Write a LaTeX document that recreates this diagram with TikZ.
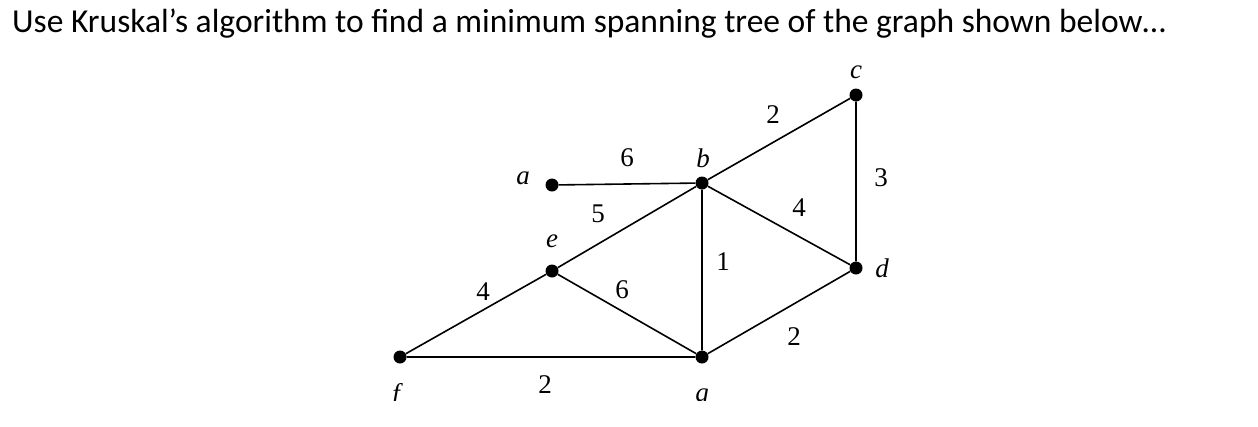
\documentclass[tikz,border=0pt]{standalone}
\usepackage{fontspec}
\setmainfont{Liberation Serif}
\newfontfamily\titlefont{Carlito}
\begin{document}
\begin{tikzpicture}[x=1pt,y=-1pt,
  vtx/.style={circle,fill=black,inner sep=0pt,minimum size=13pt},
  edge/.style={line width=1.6pt},
  wlab/.style={font=\fontsize{27}{27}\selectfont},
  vlab/.style={font=\fontsize{27}{27}\selectfont\itshape}]
\useasboundingbox (0,0) rectangle (1258,426);
\node[anchor=west,inner sep=0pt,font=\titlefont\fontsize{33.5}{33.5}\selectfont] (title) at (12,24) {Use Kruskal’s algorithm to find a minimum spanning tree of the graph shown below…};
\node[vtx] (a) at (552,185) {};
\node[vtx] (b) at (702,183) {};
\node[vtx] (c) at (856,95) {};
\node[vtx] (d) at (856,268) {};
\node[vtx] (e) at (552,271) {};
\node[vtx] (f) at (400,357) {};
\node[vtx] (g) at (702,357) {};
\draw[edge] (a)--(b) (b)--(c) (c)--(d) (b)--(d) (b)--(g) (e)--(b) (e)--(g) (e)--(f) (f)--(g) (g)--(d);
\node[vlab] (la) at (523,178) {a};
\node[vlab] (lb) at (703,158) {b};
\node[vlab] (lc) at (856,72) {c};
\node[vlab] (ld) at (882,268) {d};
\node[vlab] (le) at (552,241) {e};
\begin{scope}
\clip (0,0) rectangle (1258,400);
\node[vlab] (lf) at (396,396) {f};
\node[vlab] (lg) at (702,398) {g};
\end{scope}
\node[wlab] (w1) at (627,158) {6};
\node[wlab] (w2) at (598,214) {5};
\node[wlab] (w3) at (773,115) {2};
\node[wlab] (w4) at (881,178) {3};
\node[wlab] (w5) at (799,208) {4};
\node[wlab] (w6) at (723,262) {1};
\node[wlab] (w7) at (622,290) {6};
\node[wlab] (w8) at (483,292) {4};
\node[wlab] (w9) at (794,337) {2};
\node[wlab] (w10) at (545,385) {2};
\end{tikzpicture}
\end{document}
